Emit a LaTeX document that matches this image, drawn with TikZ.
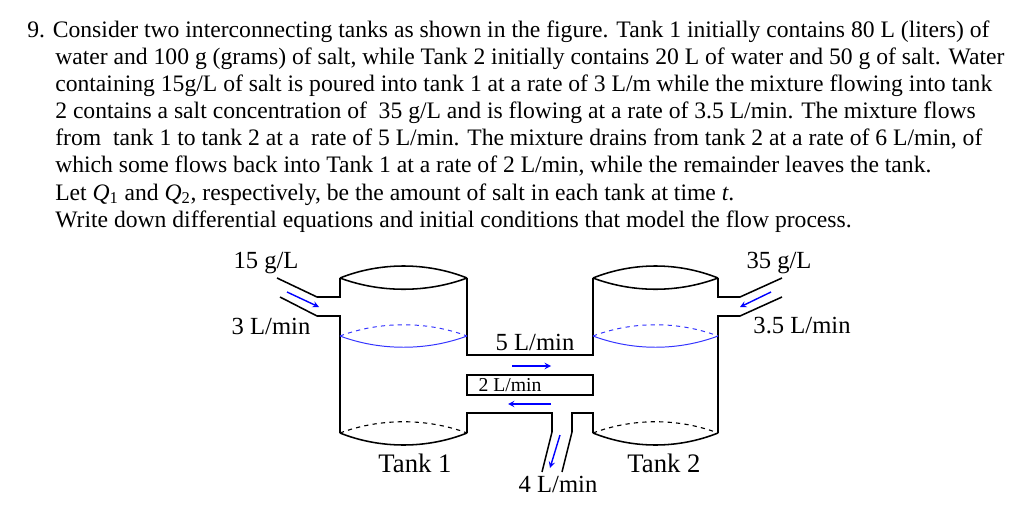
\documentclass[tikz,border=0pt]{standalone}
\usepackage{fontspec}
\setmainfont{Liberation Serif}
\begin{document}
\begin{tikzpicture}[x=0.025cm,y=-0.025cm,
  wall/.style={line width=1.1pt},
  wat/.style={blue!80,line width=0.7pt},
  flow/.style={blue,line width=1pt,-{stealth}},
  txt/.style={anchor=base west,inner sep=0pt,font=\fontsize{16.8}{19}\selectfont},
  lab/.style={inner sep=0pt,font=\fontsize{17.5}{20}\selectfont}]
\useasboundingbox (0,0) rectangle (1024,525);
% text
\node[txt] (l1) at (27,38) {9. Consider two interconnecting tanks as shown in the figure. Tank 1 initially contains 80 L (liters) of};
\node[txt] (l2) at (55,65) {water and 100 g (grams) of salt, while Tank 2 initially contains 20 L of water and 50 g of salt. Water};
\node[txt] (l3) at (55,92) {containing 15g/L of salt is poured into tank 1 at a rate of 3 L/m while the mixture flowing into tank};
\node[txt] (l4) at (55,119) {2 contains a salt concentration of\ \ 35 g/L and is flowing at a rate of 3.5 L/min. The mixture flows};
\node[txt] (l5) at (55,146) {from\ \ tank 1 to tank 2 at a\ \ rate of 5 L/min. The mixture drains from tank 2 at a rate of 6 L/min, of};
\node[txt] (l6) at (55,173) {which some flows back into Tank 1 at a rate of 2 L/min, while the remainder leaves the tank.};
\node[txt] (l7) at (55,200) {Let \textit{Q}\textsubscript{1} and \textit{Q}\textsubscript{2}, respectively, be the amount of salt in each tank at time \textit{t}.};
\node[txt] (l8) at (55,227) {Write down differential equations and initial conditions that model the flow process.};
% tank 1 walls
\draw[wall] (277,278) -- (317,297) -- (340,297) -- (340,278);
\draw[wall] (280,297) -- (317,316) -- (340,316) -- (340,433);
\draw[wall] (467,278) -- (467,355) -- (593,355) -- (593,278);
\draw[wall] (467,375) rectangle (593,395);
\draw[wall] (467,433) -- (467,413) -- (552,413) -- (552,432) -- (542,472);
\draw[wall] (562,472) -- (572,432) -- (572,413) -- (593,413) -- (593,433);
% tank 2 walls
\draw[wall] (782,278) -- (740,297) -- (718,297) -- (718,278);
\draw[wall] (782,297) -- (740,316) -- (718,316) -- (718,433);
% ellipses
\foreach \a/\b in {340/467,593/718}{
  \draw[wall] (\a,278) .. controls (\a+40,262) and (\b-40,262) .. (\b,278);
  \draw[wall] (\a,278) .. controls (\a+40,293) and (\b-40,293) .. (\b,278);
  \draw[wall] (\a,433) .. controls (\a+40,449) and (\b-40,449) .. (\b,433);
  \draw[wall,dashed,line width=0.8pt] (\a,433) .. controls (\a+40,418) and (\b-40,418) .. (\b,433);
  \draw[wat] (\a,336) .. controls (\a+40,351) and (\b-40,351) .. (\b,336);
  \draw[wat,dashed] (\a,336) .. controls (\a+40,321) and (\b-40,321) .. (\b,336);
}
% flows
\draw[flow] (287,292) -- (319,307);
\draw[flow] (771,292) -- (740,307);
\draw[flow] (512,366) -- (551,366);
\draw[flow] (551,404) -- (508,404);
\draw[flow] (560,435) -- (550,468);
% labels
\node[lab] (a) at (266,263) {15 g/L};
\node[lab] (b) at (271,326) {3 L/min};
\node[lab] (c) at (535,342) {5 L/min};
\node[lab,font=\fontsize{14}{16}\selectfont] (d) at (510,385) {2 L/min};
\node[lab,font=\fontsize{19}{22}\selectfont] (e) at (415,463) {Tank 1};
\node[lab] (f) at (558,484) {4 L/min};
\node[lab,font=\fontsize{19}{22}\selectfont] (g) at (664,463) {Tank 2};
\node[lab] (h) at (779,263) {35 g/L};
\node[lab] (i) at (802,326) {3.5 L/min};
\end{tikzpicture}
\end{document}
